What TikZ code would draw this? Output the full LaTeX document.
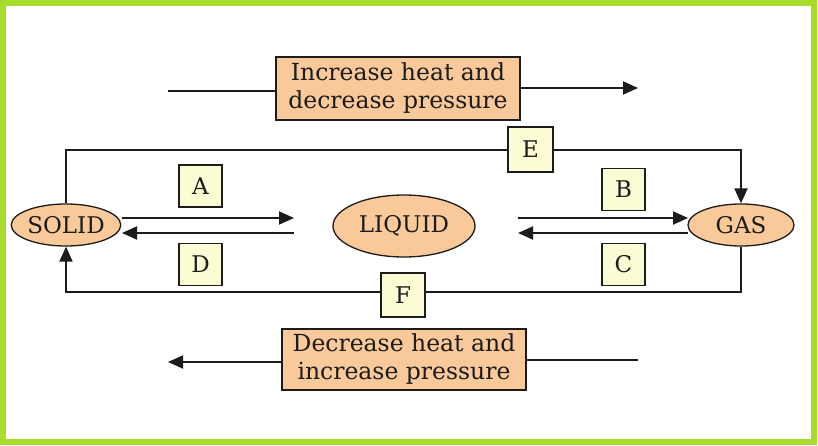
\documentclass[tikz,border=0pt]{standalone}
\usepackage{fontspec}
\setmainfont{DejaVu Serif}
\usetikzlibrary{arrows.meta,shapes.geometric}
\definecolor{lime}{HTML}{A8DC2C}
\definecolor{peach}{HTML}{F9C99A}
\definecolor{paleyel}{HTML}{FCFCD4}
\definecolor{ink}{HTML}{1C1C1C}
\tikzset{
  conn/.style={draw=ink, line width=1.9pt},
  tip/.style={-{Triangle[length=15pt,width=13pt]}},
  infobox/.style={draw=ink, line width=1.9pt, fill=peach, inner sep=0pt, align=center,
    font=\fontsize{23.5}{28}\selectfont, text=ink},
  letterbox/.style={draw=ink, line width=1.6pt, fill=paleyel, minimum width=43pt, minimum height=42pt,
    inner sep=0pt, font=\fontsize{23}{26}\selectfont, text=ink},
  statenode/.style={ellipse, draw=ink, line width=1.3pt, fill=peach, inner sep=0pt,
    font=\fontsize{23}{26}\selectfont, text=ink}
}
\begin{document}
\begin{tikzpicture}[x=1pt,y=-1pt]
\useasboundingbox (0,0) rectangle (818,446);
\fill[white] (0,0) rectangle (818,446);
% green frame
\draw[lime, line width=6pt] (3,3) rectangle (814,442);

% info boxes
\node[infobox, minimum width=244pt, minimum height=63pt] (inc) at (398,88.5) {Increase heat and\\decrease pressure};
\node[infobox, minimum width=244pt, minimum height=61pt] (dec) at (404,359.5) {Decrease heat and\\increase pressure};
\coordinate (incL) at (168,91);
\coordinate (incR) at (638,88);
\coordinate (decL) at (168,362);
\coordinate (decR) at (638,360);
\draw[conn] (incL) -- (inc.west |- incL);
\draw[conn, tip] (inc.east |- incR) -- (incR);
\draw[conn, tip] (dec.west |- decL) -- (decL);
\draw[conn] (decR) -- (dec.east |- decR);

% states
\node[statenode, minimum width=108pt, minimum height=42pt] (solid) at (66,225) {SOLID};
\node[statenode, minimum width=142pt, minimum height=62pt] (liquid) at (404,226) {LIQUID};
\node[statenode, minimum width=106pt, minimum height=42pt] (gas) at (741,225) {GAS};

% horizontal transitions
\coordinate (a1) at (122,218); \coordinate (a2) at (294,218);
\coordinate (d1) at (294,233); \coordinate (d2) at (122,233);
\coordinate (b1) at (518,218); \coordinate (b2) at (688,218);
\coordinate (c1) at (688,233); \coordinate (c2) at (518,233);
\draw[conn, tip] (a1) -- (a2);
\draw[conn, tip] (d1) -- (d2);
\draw[conn, tip] (b1) -- (b2);
\draw[conn, tip] (c1) -- (c2);

% loops
\coordinate (topY) at (0,150);
\coordinate (botY) at (0,292);
\draw[conn, tip] (solid.north) -- (solid.north |- topY) -- (gas.north |- topY) -- (gas.north);
\draw[conn, tip] (gas.south) -- (gas.south |- botY) -- (solid.south |- botY) -- (solid.south);

% letter boxes
\node[letterbox] (A) at (200.5,186) {A};
\node[letterbox] (D) at (200.5,264.5) {D};
\node[letterbox] (B) at (623.5,189.5) {B};
\node[letterbox] (C) at (623.5,264.5) {C};
\node[letterbox, minimum width=45pt, minimum height=45pt] (E) at (530.5,149.5) {E};
\node[letterbox, minimum width=44pt, minimum height=44pt] (F) at (403,295) {F};
\end{tikzpicture}
\end{document}
